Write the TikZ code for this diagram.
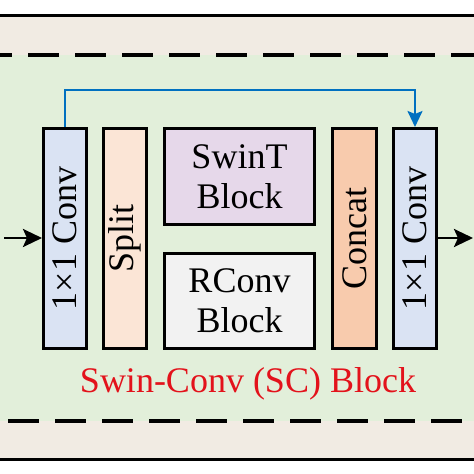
\documentclass[tikz,border=0pt]{standalone}
\usepackage{fontspec}
\setmainfont{Liberation Serif}
\usetikzlibrary{arrows.meta}
\definecolor{beigebg}{HTML}{F1EBE3}
\definecolor{greenbg}{HTML}{E2EFDA}
\definecolor{convblue}{HTML}{DAE3F3}
\definecolor{splitc}{HTML}{FBE5D6}
\definecolor{swinc}{HTML}{E6D8EA}
\definecolor{rconvc}{HTML}{F2F2F2}
\definecolor{concatc}{HTML}{F8CBAD}
\definecolor{skipblue}{HTML}{0070C0}
\definecolor{labelred}{HTML}{E3121B}
\tikzset{
  blk/.style={draw=black, line width=3pt, inner sep=0pt, font=\fontsize{36}{40}\selectfont, align=center},
  tall/.style={blk, minimum width=43pt, minimum height=220pt},
  wide/.style={blk, minimum width=150pt, minimum height=96pt},
  flow/.style={line width=2.8pt, -{Stealth[length=19pt,width=18pt,inset=4pt]}},
  skip/.style={draw=skipblue, line width=2.2pt, -{Stealth[length=16pt,width=15pt,inset=3pt]}},
  dashline/.style={line width=3.2pt, dash pattern=on 31pt off 16pt}
}
\begin{document}
\begin{tikzpicture}[x=1pt,y=1pt]
\useasboundingbox (0,0) rectangle (474,474);
% backgrounds
\fill[beigebg] (0,14) rectangle (474,458);
\fill[greenbg] (0,53) rectangle (474,419);
\draw[line width=3pt] (0,458) -- (474,458);
\draw[line width=3pt] (0,14) -- (474,14);
\draw[dashline, dash phase=19pt] (0,419) -- (474,419);
\draw[dashline] (8,53) -- (466,53);
% blocks
\node[tall, fill=convblue] (c1) at (65,235.5) {\rotatebox{90}{1×1 Conv}};
\node[tall, fill=splitc] (sp) at (125,235.5) {\rotatebox{90}{Split}};
\node[wide, fill=swinc] (sw) at (239.5,297) {SwinT\\Block};
\node[wide, fill=rconvc, minimum height=95pt] (rc) at (239.5,173) {RConv\\Block};
\node[tall, fill=concatc, minimum width=44pt] (cc) at (354.5,235.5) {\rotatebox{90}{Concat}};
\node[tall, fill=convblue] (c2) at (415,235.5) {\rotatebox{90}{1×1 Conv}};
% connectors
\coordinate (in) at (4,236);
\coordinate (out) at (473,236);
\draw[flow] (in) -- (c1.west |- in);
\draw[flow] (c2.east |- out) -- (out);
\draw[skip] (c1.north) -- (65,384) -| (c2.north);
% label
\node[text=labelred, anchor=base, font=\fontsize{36}{40}\selectfont, inner sep=0pt] (lbl) at (248,81) {Swin-Conv (SC) Block};
\end{tikzpicture}
\end{document}
